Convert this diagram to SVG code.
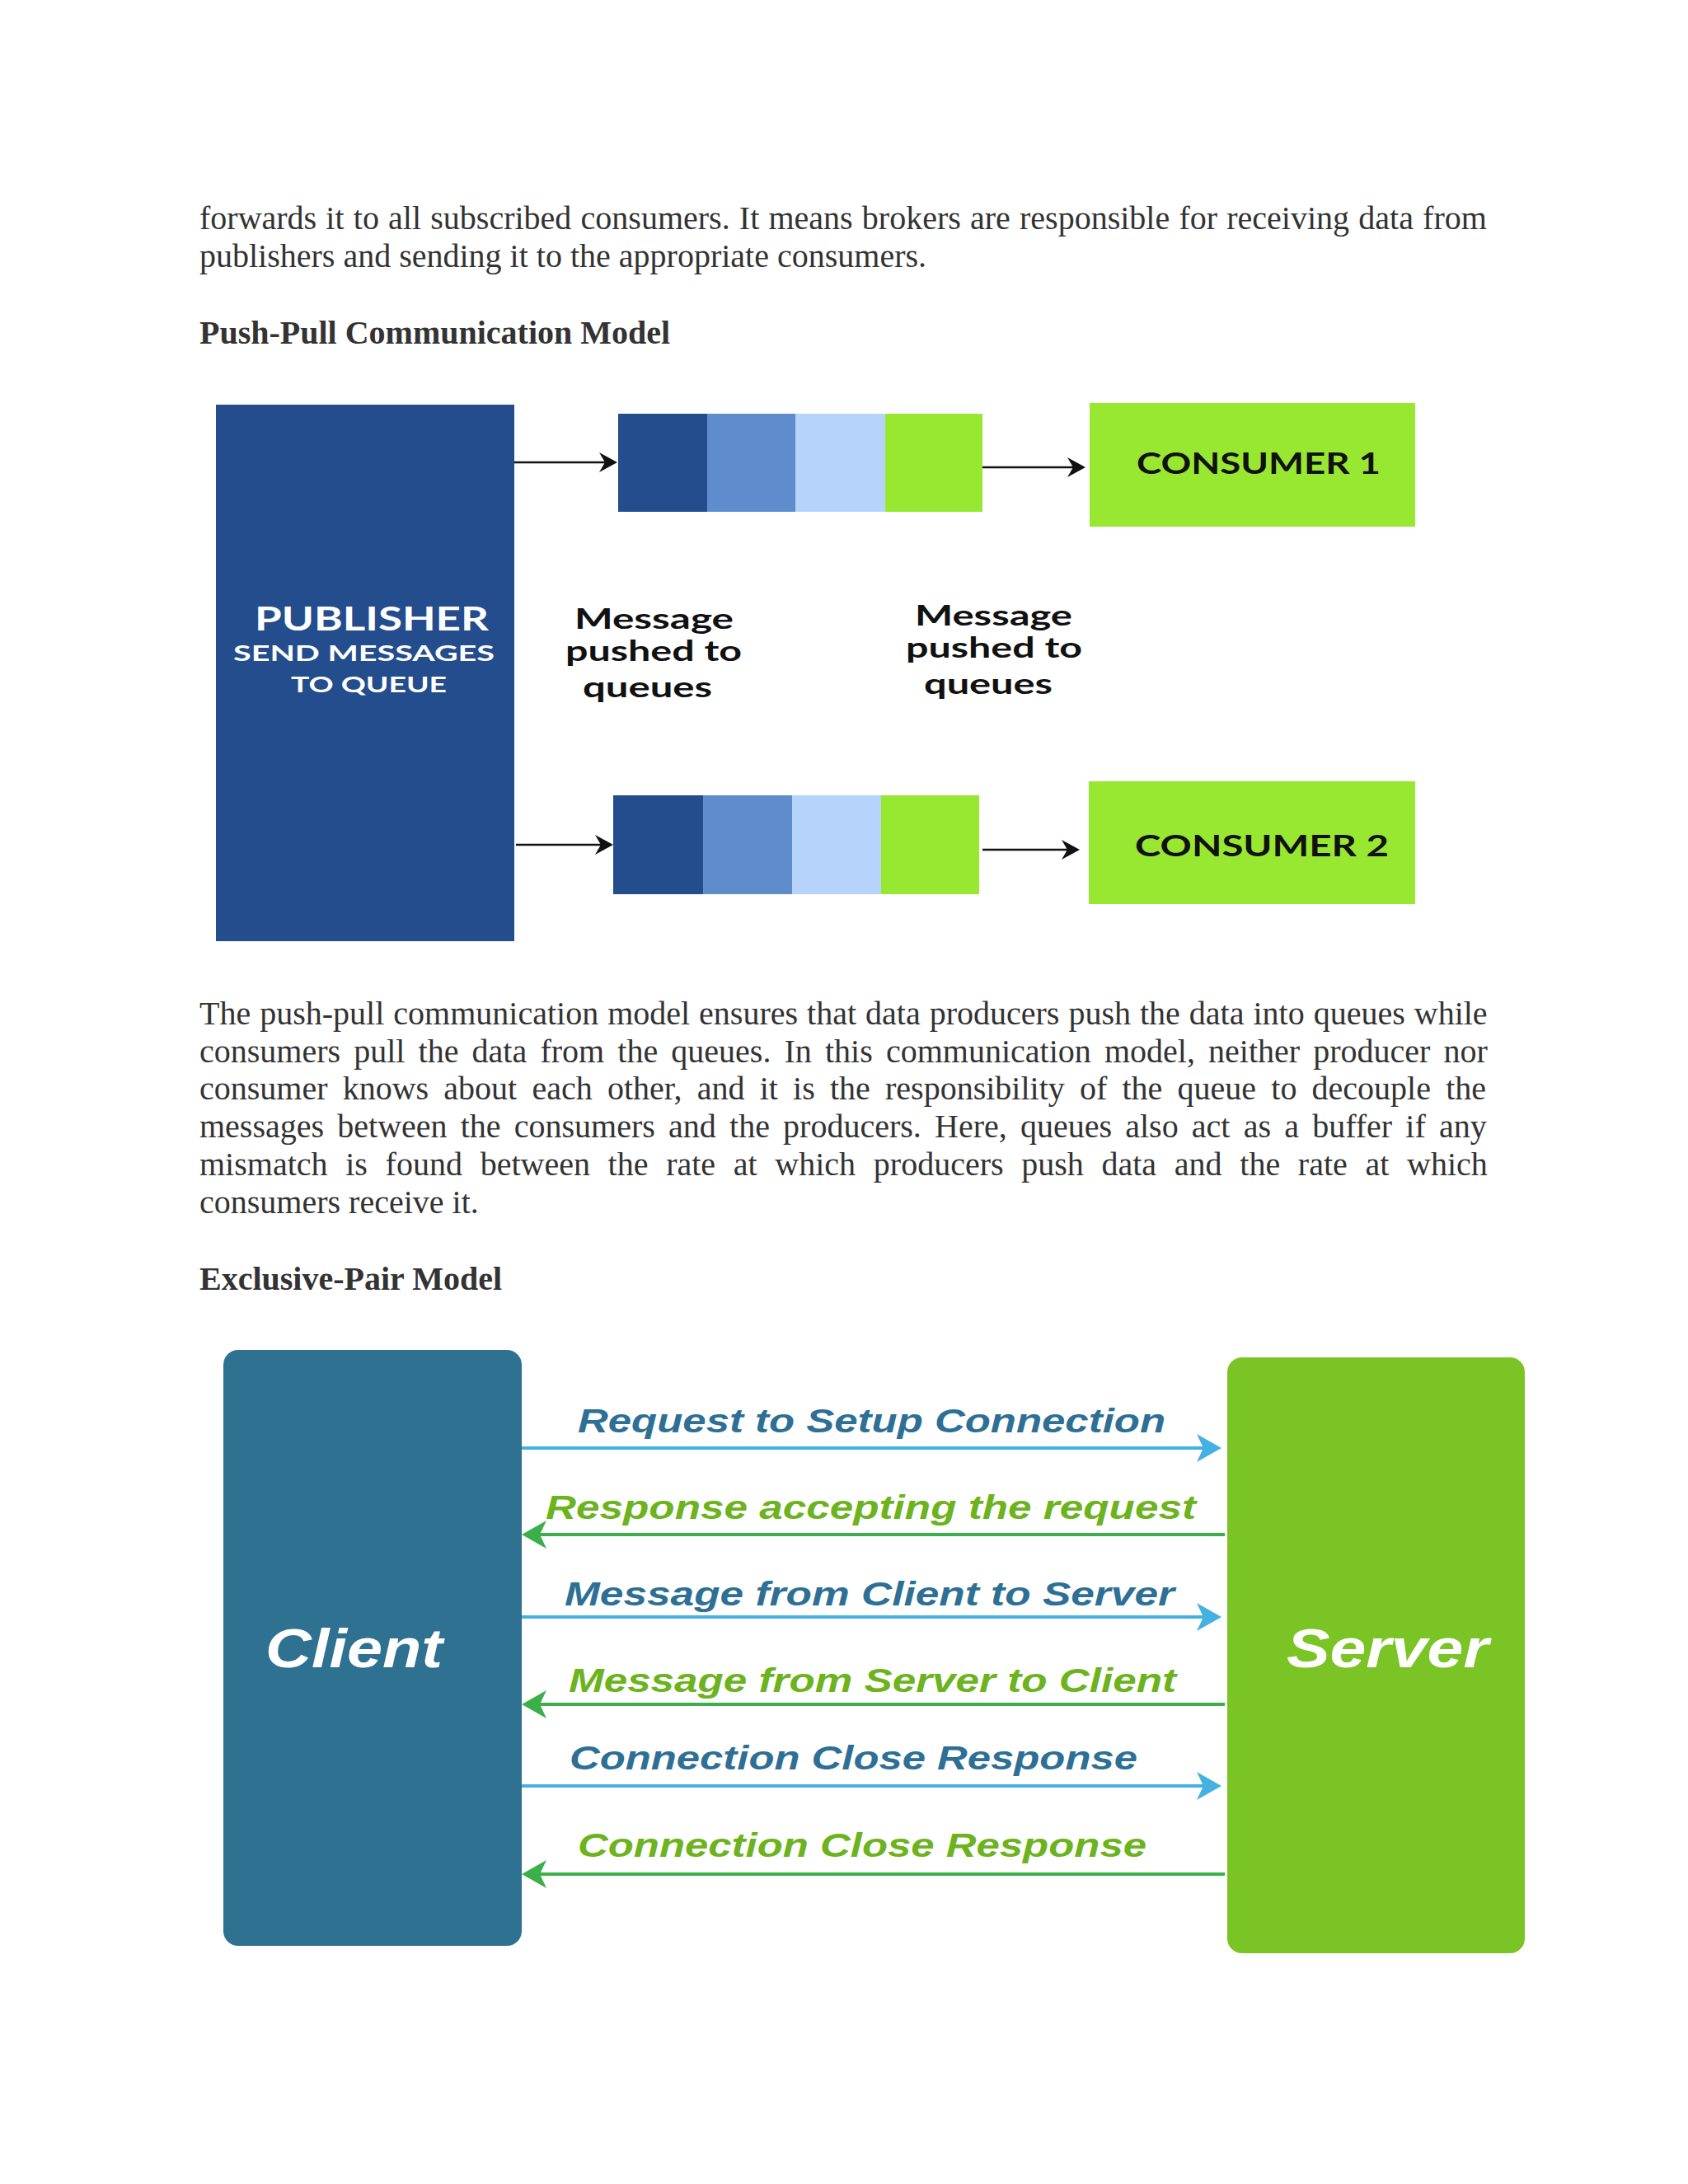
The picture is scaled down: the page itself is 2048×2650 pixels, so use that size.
<svg xmlns="http://www.w3.org/2000/svg" width="2048" height="2650" viewBox="0 0 2048 2650">
<style>
.p{font-family:"Liberation Serif","Times New Roman",serif;font-size:40px;fill:#333}
.h{font-family:"Liberation Serif","Times New Roman",serif;font-size:40px;font-weight:bold;fill:#333}
.d1{font-family:Lato,"Open Sans","DejaVu Sans",sans-serif;font-weight:bold}
.d2{font-family:"Liberation Sans",Arial,sans-serif;font-weight:bold;font-style:italic;font-size:41px}
.big{font-family:"Liberation Sans",Arial,sans-serif;font-weight:bold;font-style:italic;font-size:67px;fill:#fff}
.blk{stroke:#111;stroke-width:2.6;fill:none}
.bl{stroke:#45b0e2;stroke-width:4;fill:none}
.gr{stroke:#3bb04a;stroke-width:4;fill:none}
</style>
<defs>
<marker id="ah" markerUnits="userSpaceOnUse" markerWidth="30" markerHeight="30" refX="0" refY="0" orient="auto" overflow="visible">
<path d="M8,0 L-14,-12 L-7,0 L-14,12 Z" fill="#111"/>
</marker>
<marker id="ab" markerUnits="userSpaceOnUse" markerWidth="40" markerHeight="40" refX="0" refY="0" orient="auto" overflow="visible">
<path d="M6,0 L-24,-17 L-16,0 L-24,17 Z" fill="#45b0e2"/>
</marker>
<marker id="ag" markerUnits="userSpaceOnUse" markerWidth="40" markerHeight="40" refX="0" refY="0" orient="auto" overflow="visible">
<path d="M6,0 L-24,-17 L-16,0 L-24,17 Z" fill="#3bb04a"/>
</marker>
</defs>
<rect width="2048" height="2650" fill="#fff"/>

<g id="text-top">
<text class="p" x="242" y="278" word-spacing="1.2">forwards it to all subscribed consumers. It means brokers are responsible for receiving data from</text>
<text class="p" x="242" y="324">publishers and sending it to the appropriate consumers.</text>
<text class="h" x="242" y="417">Push-Pull Communication Model</text>
</g>

<g id="publisher">
<rect x="262" y="491" width="362" height="651" fill="#234d8c"/>
<text class="d1" x="309" y="765" font-size="40" fill="#fff" textLength="284" lengthAdjust="spacingAndGlyphs">PUBLISHER</text>
<text class="d1" x="283" y="802" font-size="27" fill="#fff" textLength="317" lengthAdjust="spacingAndGlyphs">SEND MESSAGES</text>
<text class="d1" x="353" y="840" font-size="27" fill="#fff" textLength="189" lengthAdjust="spacingAndGlyphs">TO QUEUE</text>
</g>

<g id="queue1">
<rect x="750" y="502" width="108" height="119" fill="#234d8c"/>
<rect x="858" y="502" width="107" height="119" fill="#5f8ccd"/>
<rect x="965" y="502" width="109" height="119" fill="#b6d4fb"/>
<rect x="1074" y="502" width="118" height="119" fill="#98e831"/>
</g>

<g id="queue2">
<rect x="744" y="965" width="109" height="120" fill="#234d8c"/>
<rect x="853" y="965" width="108" height="120" fill="#5f8ccd"/>
<rect x="961" y="965" width="108" height="120" fill="#b6d4fb"/>
<rect x="1069" y="965" width="119" height="120" fill="#98e831"/>
</g>

<g id="consumer1">
<rect x="1322" y="489" width="395" height="150" fill="#98e831"/>
<text class="d1" x="1379" y="575" font-size="37" fill="#111" textLength="296" lengthAdjust="spacingAndGlyphs">CONSUMER 1</text>
</g>

<g id="consumer2">
<rect x="1321" y="948" width="396" height="149" fill="#98e831"/>
<text class="d1" x="1377" y="1039" font-size="37" fill="#111" textLength="308" lengthAdjust="spacingAndGlyphs">CONSUMER 2</text>
</g>

<g id="label-left">
<text class="d1" x="697" y="763" font-size="34" fill="#111" textLength="193" lengthAdjust="spacingAndGlyphs">Message</text>
<text class="d1" x="686" y="802" font-size="34" fill="#111" textLength="214" lengthAdjust="spacingAndGlyphs">pushed to</text>
<text class="d1" x="707" y="846" font-size="34" fill="#111" textLength="157" lengthAdjust="spacingAndGlyphs">queues</text>
</g>
<g id="label-right">
<text class="d1" x="1110" y="759" font-size="34" fill="#111" textLength="191" lengthAdjust="spacingAndGlyphs">Message</text>
<text class="d1" x="1099" y="798" font-size="34" fill="#111" textLength="214" lengthAdjust="spacingAndGlyphs">pushed to</text>
<text class="d1" x="1121" y="842" font-size="34" fill="#111" textLength="156" lengthAdjust="spacingAndGlyphs">queues</text>
</g>

<g id="connectors-1">
<line class="blk" x1="624" y1="561" x2="741" y2="561" marker-end="url(#ah)"/>
<line class="blk" x1="1192" y1="567" x2="1309" y2="567" marker-end="url(#ah)"/>
<line class="blk" x1="626" y1="1025" x2="736" y2="1025" marker-end="url(#ah)"/>
<line class="blk" x1="1192" y1="1031" x2="1302" y2="1031" marker-end="url(#ah)"/>
</g>

<g id="text-mid">
<text class="p" x="242" y="1243" word-spacing="1.0">The push-pull communication model ensures that data producers push the data into queues while</text>
<text class="p" x="242" y="1289" word-spacing="6.15">consumers pull the data from the queues. In this communication model, neither producer nor</text>
<text class="p" x="242" y="1334" word-spacing="8.2">consumer knows about each other, and it is the responsibility of the queue to decouple the</text>
<text class="p" x="242" y="1380" word-spacing="6.2">messages between the consumers and the producers. Here, queues also act as a buffer if any</text>
<text class="p" x="242" y="1426" word-spacing="11.7">mismatch is found between the rate at which producers push data and the rate at which</text>
<text class="p" x="242" y="1472">consumers receive it.</text>
<text class="h" x="242" y="1565">Exclusive-Pair Model</text>
</g>

<g id="client">
<rect x="271" y="1638" width="362" height="723" rx="18" fill="#2e7190"/>
<text class="big" x="322" y="2023" textLength="215" lengthAdjust="spacingAndGlyphs">Client</text>
</g>

<g id="server">
<rect x="1489" y="1647" width="361" height="723" rx="18" fill="#7bc425"/>
<text class="big" x="1561" y="2023" textLength="245" lengthAdjust="spacingAndGlyphs">Server</text>
</g>

<g id="connectors-2">
<line class="bl" x1="633" y1="1757" x2="1476" y2="1757" marker-end="url(#ab)"/>
<line class="gr" x1="1486" y1="1862" x2="639" y2="1862" marker-end="url(#ag)"/>
<line class="bl" x1="633" y1="1962" x2="1476" y2="1962" marker-end="url(#ab)"/>
<line class="gr" x1="1486" y1="2068" x2="639" y2="2068" marker-end="url(#ag)"/>
<line class="bl" x1="633" y1="2167" x2="1476" y2="2167" marker-end="url(#ab)"/>
<line class="gr" x1="1486" y1="2274" x2="639" y2="2274" marker-end="url(#ag)"/>
</g>

<g id="labels-2">
<text class="d2" x="701" y="1738" fill="#2e7095" textLength="713" lengthAdjust="spacingAndGlyphs">Request to Setup Connection</text>
<text class="d2" x="662" y="1843" fill="#6cb31e" textLength="789" lengthAdjust="spacingAndGlyphs">Response accepting the request</text>
<text class="d2" x="685" y="1948" fill="#2e7095" textLength="740" lengthAdjust="spacingAndGlyphs">Message from Client to Server</text>
<text class="d2" x="690" y="2053" fill="#6cb31e" textLength="737" lengthAdjust="spacingAndGlyphs">Message from Server to Client</text>
<text class="d2" x="691" y="2147" fill="#2e7095" textLength="689" lengthAdjust="spacingAndGlyphs">Connection Close Response</text>
<text class="d2" x="701" y="2253" fill="#6cb31e" textLength="690" lengthAdjust="spacingAndGlyphs">Connection Close Response</text>
</g>
</svg>
